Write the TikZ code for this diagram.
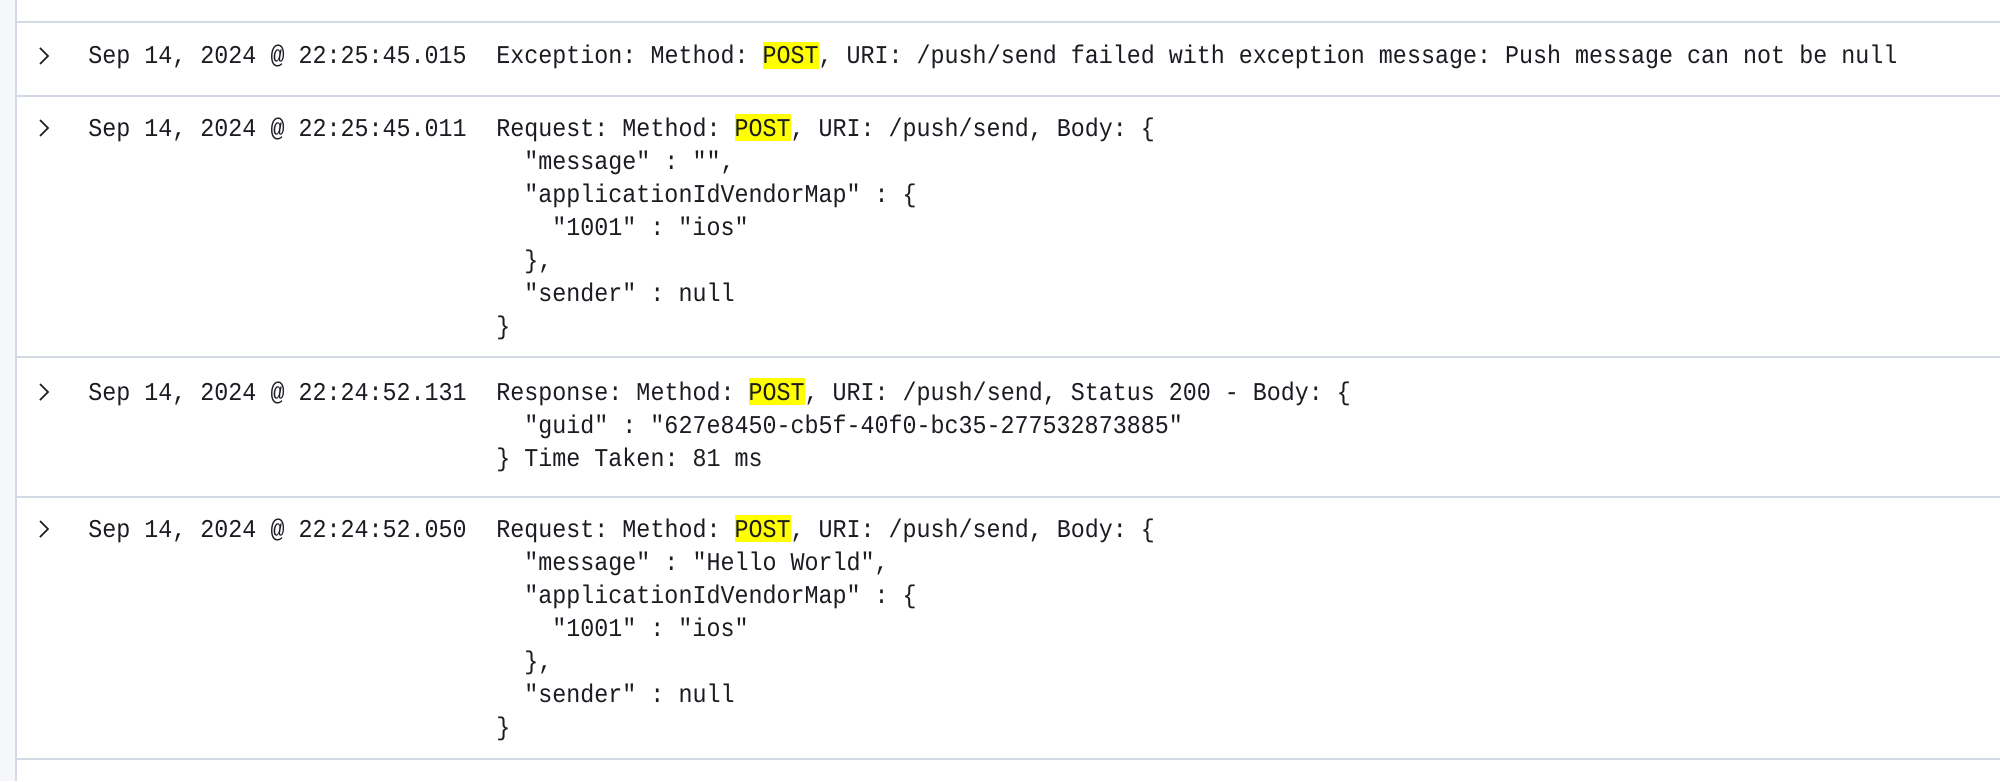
\documentclass[tikz,border=0pt]{standalone}
\usepackage{fontspec}
\newfontfamily\logfont[FakeStretch=0.912]{Liberation Mono}
\definecolor{rule}{HTML}{D3DAE6}
\definecolor{side}{HTML}{F5F7FA}
\definecolor{ink}{HTML}{1A1C21}
\definecolor{hl}{HTML}{FFFF00}
\newcommand\hlpost{{\setlength\fboxsep{0pt}\colorbox{hl}{\vrule height 11pt depth 2.5pt width 0pt POST}}}
\begin{document}
\begin{tikzpicture}[x=0.5pt,y=-0.5pt,
  line/.style={anchor=base west,inner sep=0pt,text=ink,font=\logfont\fontsize{12.8}{14}\selectfont\frenchspacing},
  sep/.style={rule,line width=1pt},
  chev/.style={ink,line width=0.8pt,line join=miter}]
\useasboundingbox (0,0) rectangle (2000,781);
\fill[side] (0,0) rectangle (16,781);
\draw[sep] (16,0) -- (16,781);
\draw[sep] (16,22) -- (2000,22);
\draw[sep] (16,96) -- (2000,96);
\draw[sep] (16,357) -- (2000,357);
\draw[sep] (16,497) -- (2000,497);
\draw[sep] (16,759) -- (2000,759);
\draw[chev] (40,48) -- (48,56) -- (40,64);
\draw[chev] (40,120) -- (48,128) -- (40,136);
\draw[chev] (40,384) -- (48,392) -- (40,400);
\draw[chev] (40,521) -- (48,529) -- (40,537);
\node[line] (t1) at (88,64) {Sep 14, 2024 @ 22:25:45.015};
\node[line] (m1) at (496,64) {Exception: Method: \hlpost, URI: /push/send failed with exception message: Push message can not be null};
\node[line] (t2) at (88,136) {Sep 14, 2024 @ 22:25:45.011};
\node[line] (m2a) at (496,136) {Request: Method: \hlpost, URI: /push/send, Body: \{};
\node[line] (m2b) at (524,169) {"message" : "",};
\node[line] (m2c) at (524,202) {"applicationIdVendorMap" : \{};
\node[line] (m2d) at (552,235) {"1001" : "ios"};
\node[line] (m2e) at (524,268) {\},};
\node[line] (m2f) at (524,301) {"sender" : null};
\node[line] (m2g) at (496,334) {\}};
\node[line] (t3) at (88,400) {Sep 14, 2024 @ 22:24:52.131};
\node[line] (m3a) at (496,400) {Response: Method: \hlpost, URI: /push/send, Status 200 - Body: \{};
\node[line] (m3b) at (524,433) {"guid" : "627e8450-cb5f-40f0-bc35-277532873885"};
\node[line] (m3c) at (496,466) {\} Time Taken: 81 ms};
\node[line] (t4) at (88,537) {Sep 14, 2024 @ 22:24:52.050};
\node[line] (m4a) at (496,537) {Request: Method: \hlpost, URI: /push/send, Body: \{};
\node[line] (m4b) at (524,570) {"message" : "Hello World",};
\node[line] (m4c) at (524,603) {"applicationIdVendorMap" : \{};
\node[line] (m4d) at (552,636) {"1001" : "ios"};
\node[line] (m4e) at (524,669) {\},};
\node[line] (m4f) at (524,702) {"sender" : null};
\node[line] (m4g) at (496,735) {\}};
\end{tikzpicture}
\end{document}
